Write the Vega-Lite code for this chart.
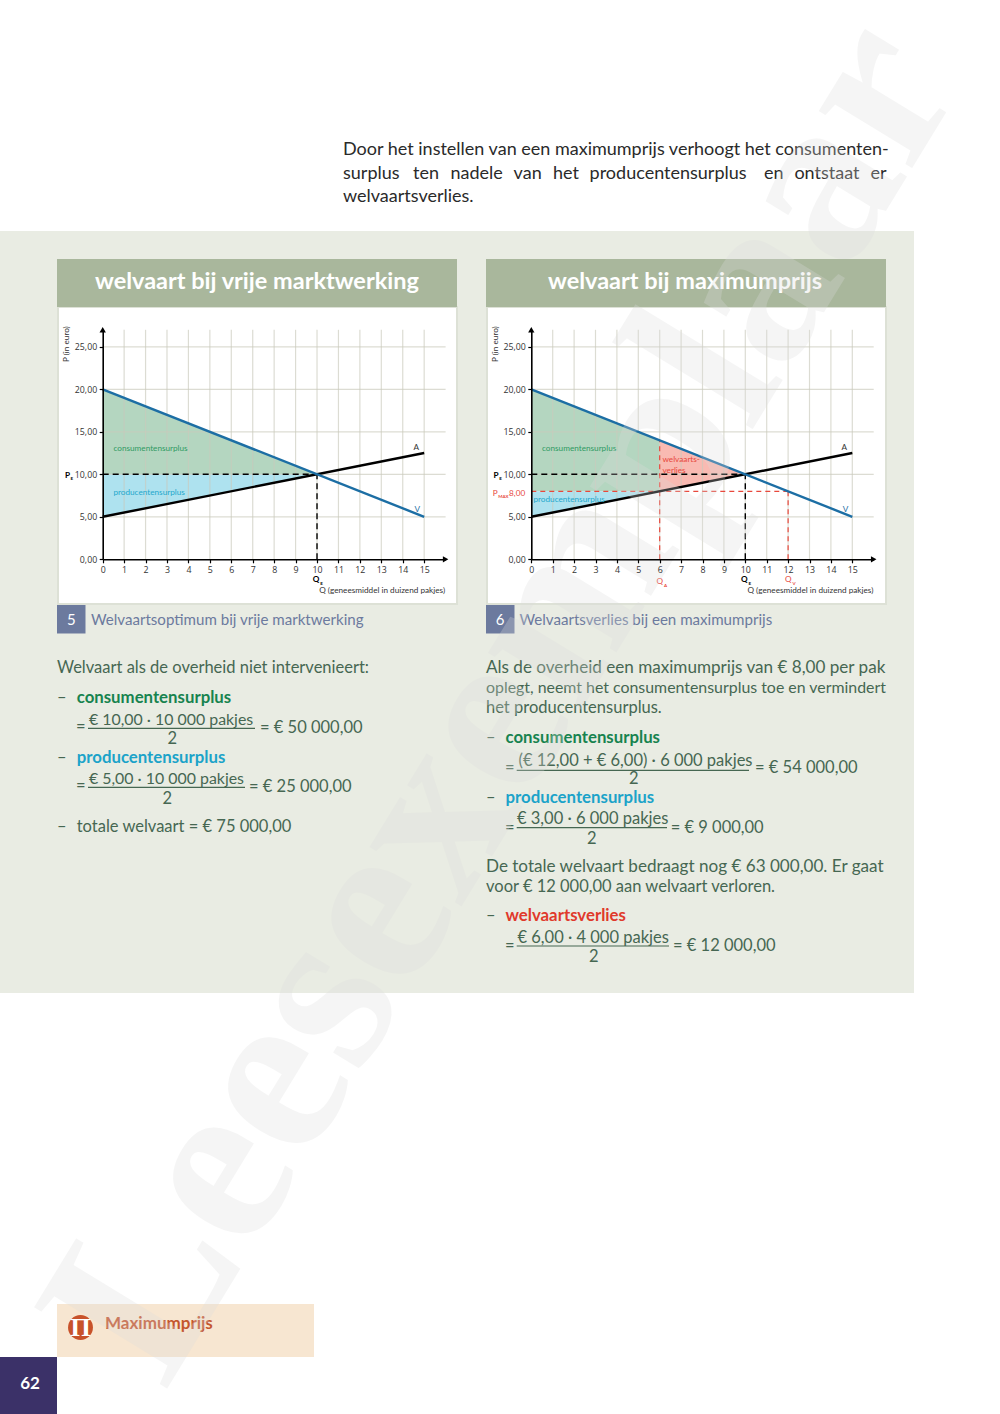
{
"$schema":"https://vega.github.io/schema/vega-lite/v6.json",
"autosize":{"type":"none"},
"width":1000,"height":1414,"padding":0,"background":"white",
"config":{"view":{"stroke":null},"text":{"font":"Lato"},"axis":{"grid":false,"title":null,"domainColor":"#000","domainWidth":1.6,"tickColor":"#000","tickWidth":1.2,"tickSize":3.5,"labelFont":"Open Sans","labelFontSize":8.8,"labelColor":"#333","labelPadding":2.5,"labelOverlap":false,"labelBound":false,"labelFlush":false}},
"datasets":{
"boxes":[
{"kind":"paneel","x":0,"x2":914,"y":231,"y2":993},
{"kind":"kader","x":57,"x2":458,"y":306,"y2":605},
{"kind":"kader","x":486,"x2":887,"y":306,"y2":605},
{"kind":"wit","x":59,"x2":456,"y":308,"y2":603},
{"kind":"wit","x":488,"x2":885,"y":308,"y2":603},
{"kind":"kop","x":57,"x2":457,"y":259,"y2":307},
{"kind":"kop","x":486,"x2":886,"y":259,"y2":307},
{"kind":"nummer","x":57,"x2":85.5,"y":605,"y2":633.5},
{"kind":"nummer","x":486,"x2":514.5,"y":605,"y2":633.5},
{"kind":"beige","x":57,"x2":314,"y":1304,"y2":1357},
{"kind":"paars","x":0,"x2":57,"y":1357,"y2":1414}
],
"rules":[
{"x":88,"x2":255,"y":728.3},{"x":88,"x2":245,"y":787.3},
{"x":516.7,"x2":749,"y":770.3},{"x":516.7,"x2":667,"y":827.7},{"x":516.7,"x2":669,"y":946}
],
"page":[
{"s":"top","x":343,"y":155,"t":"Door het instellen van een maximumprijs verhoogt het consumenten-"},
{"s":"top","x":343,"y":178.7,"t":"surplus"},{"s":"top","x":413,"y":178.7,"t":"ten"},{"s":"top","x":450.5,"y":178.7,"t":"nadele"},{"s":"top","x":513.6,"y":178.7,"t":"van"},{"s":"top","x":553,"y":178.7,"t":"het"},{"s":"top","x":589.6,"y":178.7,"t":"producentensurplus"},{"s":"top","x":764,"y":178.7,"t":"en"},{"s":"top","x":794.4,"y":178.7,"t":"ontstaat"},{"s":"top","x":870.4,"y":178.7,"t":"er"},
{"s":"top","x":343,"y":201.7,"t":"welvaartsverlies."},
{"s":"body","x":57,"y":673,"t":"Welvaart als de overheid niet intervenieert:"},
{"s":"body","x":57,"y":703,"t":"–"},
{"s":"body","x":76,"y":731.7,"t":"="},
{"s":"smal","x":89,"y":724.7,"t":"€ 10,00 · 10 000 pakjes"},
{"s":"body","x":260,"y":733,"t":"= € 50 000,00"},
{"s":"body","x":167.5,"y":744.3,"t":"2"},
{"s":"body","x":57,"y":762.7,"t":"–"},
{"s":"body","x":76,"y":791,"t":"="},
{"s":"smal","x":89,"y":784,"t":"€ 5,00 · 10 000 pakjes"},
{"s":"body","x":249,"y":792.3,"t":"= € 25 000,00"},
{"s":"body","x":162.5,"y":804,"t":"2"},
{"s":"body","x":57,"y":832.3,"t":"–"},
{"s":"body","x":76.7,"y":832.3,"t":"totale welvaart = € 75 000,00"},
{"s":"breed","x":486,"y":673,"t":"Als de overheid een maximumprijs van € 8,00 per pak"},
{"s":"smal","x":486,"y":693.3,"t":"oplegt, neemt het consumentensurplus toe en vermindert"},
{"s":"body","x":486,"y":713,"t":"het producentensurplus."},
{"s":"body","x":486,"y":743,"t":"–"},
{"s":"body","x":505,"y":773.3,"t":"="},
{"s":"body","x":518.5,"y":765.7,"t":"(€ 12,00 + € 6,00) · 6 000 pakjes"},
{"s":"body","x":755,"y":773.3,"t":"= € 54 000,00"},
{"s":"body","x":629,"y":784.3,"t":"2"},
{"s":"body","x":486,"y":802.7,"t":"–"},
{"s":"body","x":505,"y":832.7,"t":"="},
{"s":"body","x":517,"y":824.3,"t":"€ 3,00 · 6 000 pakjes"},
{"s":"body","x":670.7,"y":832.7,"t":"= € 9 000,00"},
{"s":"body","x":587,"y":844.3,"t":"2"},
{"s":"breed","x":486,"y":871.7,"t":"De totale welvaart bedraagt nog € 63 000,00. Er gaat"},
{"s":"body","x":486,"y":891.7,"t":"voor € 12 000,00 aan welvaart verloren."},
{"s":"body","x":486,"y":921,"t":"–"},
{"s":"body","x":505,"y":951,"t":"="},
{"s":"body","x":517.5,"y":943.3,"t":"€ 6,00 · 4 000 pakjes"},
{"s":"body","x":673,"y":951,"t":"= € 12 000,00"},
{"s":"body","x":589,"y":962.3,"t":"2"},
{"s":"groen","x":76.7,"y":703,"t":"consumentensurplus"},
{"s":"cyaan","x":76.7,"y":762.7,"t":"producentensurplus"},
{"s":"groen","x":505.5,"y":743,"t":"consumentensurplus"},
{"s":"cyaan","x":505.5,"y":802.7,"t":"producentensurplus"},
{"s":"rood","x":505.5,"y":921,"t":"welvaartsverlies"},
{"s":"kop","x":95,"y":288.5,"t":"welvaart bij vrije marktwerking"},
{"s":"kop","x":548,"y":288.5,"t":"welvaart bij maximumprijs"},
{"s":"cap","x":91,"y":624.5,"t":"Welvaartsoptimum bij vrije marktwerking"},
{"s":"cap","x":519.5,"y":624.5,"t":"Welvaartsverlies bij een maximumprijs"},
{"s":"capnr","x":71.3,"y":625,"t":"5"},
{"s":"capnr","x":500,"y":625,"t":"6"},
{"s":"pagina","x":30,"y":1389,"t":"62"},
{"s":"thema","x":105,"y":1328.5,"t":"Maximumprijs"},
{"s":"icoon","x":80.5,"y":1336,"t":"Π"}
],
"grid":[{"q":1},{"q":2},{"q":3},{"q":4},{"q":5},{"q":6},{"q":7},{"q":8},{"q":9},{"q":10},{"q":11},{"q":12},{"q":13},{"q":14},{"q":15}],
"gridp":[{"p":5},{"p":10},{"p":15},{"p":20},{"p":25}],
"arrows":[{"q":16,"p":0,"dir":"x"},{"q":0,"p":27,"dir":"y"}],
"surplus":[
{"c":"L","a":"consument","q":0,"top":20,"bottom":10},{"c":"L","a":"consument","q":10,"top":10,"bottom":10},
{"c":"L","a":"producent","q":0,"top":10,"bottom":5},{"c":"L","a":"producent","q":10,"top":10,"bottom":10},
{"c":"R","a":"consument","q":0,"top":20,"bottom":8},{"c":"R","a":"consument","q":6,"top":14,"bottom":8},
{"c":"R","a":"producent","q":0,"top":8,"bottom":5},{"c":"R","a":"producent","q":6,"top":8,"bottom":8},
{"c":"R","a":"verlies","q":6,"top":14,"bottom":8},{"c":"R","a":"verlies","q":10,"top":10,"bottom":10}
],
"curves":[{"curve":"A","q":0,"p":5},{"curve":"A","q":15,"p":12.5},{"curve":"V","q":0,"p":20},{"curve":"V","q":15,"p":5}],
"guides":[
{"c":"L","g":"PE","tone":"zwart","q":0,"p":10},{"c":"L","g":"PE","tone":"zwart","q":10,"p":10},
{"c":"L","g":"QE","tone":"zwart","q":10,"p":0},{"c":"L","g":"QE","tone":"zwart","q":10,"p":10},
{"c":"R","g":"PE","tone":"zwart","q":0,"p":10},{"c":"R","g":"PE","tone":"zwart","q":10,"p":10},
{"c":"R","g":"QE","tone":"zwart","q":10,"p":0},{"c":"R","g":"QE","tone":"zwart","q":10,"p":10},
{"c":"R","g":"Pmax","tone":"rood","q":0,"p":8},{"c":"R","g":"Pmax","tone":"rood","q":12,"p":8},
{"c":"R","g":"QA","tone":"rood","q":6,"p":0},{"c":"R","g":"QA","tone":"rood","q":6,"p":14},
{"c":"R","g":"QV","tone":"rood","q":12,"p":0},{"c":"R","g":"QV","tone":"rood","q":12,"p":8}
],
"labels":[
{"c":"L","r":"n","tone":"groen","t":"consumentensurplus","q":0.5,"p":12.74},
{"c":"L","r":"n","tone":"cyaan","t":"producentensurplus","q":0.5,"p":7.56},
{"c":"L","r":"n","tone":"grijs","t":"A","q":14.5,"p":12.86},
{"c":"L","r":"n","tone":"blauw","t":"V","q":14.55,"p":5.6},
{"c":"L","r":"b","tone":"zwart","t":"P","q":-1.76,"p":9.6},
{"c":"L","r":"s","tone":"zwart","t":"E","q":-1.5,"p":9.3},
{"c":"L","r":"b","tone":"zwart","t":"Q","q":9.8,"p":-2.7},
{"c":"L","r":"s","tone":"zwart","t":"E","q":10.15,"p":-3},
{"c":"L","r":"n","tone":"grijs","t":"Q (geneesmiddel in duizend pakjes)","q":10.1,"p":-4},
{"c":"R","r":"n","tone":"groen","t":"consumentensurplus","q":0.5,"p":12.74},
{"c":"R","r":"n","tone":"cyaan","t":"producentensurplus","q":0.1,"p":6.7},
{"c":"R","r":"n","tone":"rood","t":"welvaarts-","q":6.13,"p":11.4},
{"c":"R","r":"n","tone":"rood","t":"verlies","q":6.13,"p":10.2},
{"c":"R","r":"n","tone":"grijs","t":"A","q":14.5,"p":12.86},
{"c":"R","r":"n","tone":"blauw","t":"V","q":14.55,"p":5.6},
{"c":"R","r":"b","tone":"zwart","t":"P","q":-1.77,"p":9.6},
{"c":"R","r":"s","tone":"zwart","t":"E","q":-1.5,"p":9.3},
{"c":"R","r":"n","tone":"rood","t":"P","q":-1.8,"p":7.5},
{"c":"R","r":"s","tone":"rood","t":"MAX","q":-1.55,"p":7.2},
{"c":"R","r":"n","tone":"rood","t":"8,00","q":-1.04,"p":7.5},
{"c":"R","r":"n","tone":"rood","t":"Q","q":5.85,"p":-2.9},
{"c":"R","r":"s","tone":"rood","t":"A","q":6.2,"p":-3.2},
{"c":"R","r":"b","tone":"zwart","t":"Q","q":9.8,"p":-2.7},
{"c":"R","r":"s","tone":"zwart","t":"E","q":10.15,"p":-3},
{"c":"R","r":"n","tone":"rood","t":"Q","q":11.85,"p":-2.7},
{"c":"R","r":"s","tone":"rood","t":"V","q":12.2,"p":-3},
{"c":"R","r":"n","tone":"grijs","t":"Q (geneesmiddel in duizend pakjes)","q":10.1,"p":-4}
],
"ylab":[{"t":"P (in euro)","p":23.2,"q":-1.57}],
"watermark":[{"t":"Leesexemplaar","x":165,"y":1392}]
},
"resolve":{"scale":{"x":"independent","y":"independent","color":"independent"}},
"layer":[
{"layer":[
{"data":{"name":"boxes"},"mark":{"type":"rect"},"encoding":{
"x":{"field":"x","type":"quantitative","scale":{"domain":[0,1000],"range":[0,1000],"nice":false},"axis":null},"x2":{"field":"x2"},
"y":{"field":"y","type":"quantitative","scale":{"domain":[0,1414],"range":[0,1414],"nice":false},"axis":null},"y2":{"field":"y2"},
"color":{"field":"kind","type":"nominal","legend":null,"scale":{"domain":["paneel","kader","wit","kop","nummer","beige","paars"],"range":["#e9ece3","#dde1d6","#ffffff","#a9b79c","#6c7a9e","#f7e6d1","#3b3168"]}}}},
{"data":{"name":"rules"},"mark":{"type":"rule","color":"#466752","strokeWidth":1.2},"encoding":{"x":{"field":"x","type":"quantitative"},"x2":{"field":"x2"},"y":{"field":"y","type":"quantitative"}}},
{"data":{"name":"page"},"transform":[{"filter":"datum.s=='top'"}],"mark":{"type":"text","align":"left","baseline":"alphabetic","fontSize":18,"color":"#2a2a2a"},"encoding":{"x":{"field":"x","type":"quantitative"},"y":{"field":"y","type":"quantitative"},"text":{"field":"t"}}},
{"data":{"name":"page"},"transform":[{"filter":"datum.s=='body'"}],"mark":{"type":"text","align":"left","baseline":"alphabetic","fontSize":16.5,"color":"#466752"},"encoding":{"x":{"field":"x","type":"quantitative"},"y":{"field":"y","type":"quantitative"},"text":{"field":"t"}}},
{"data":{"name":"page"},"transform":[{"filter":"datum.s=='smal'"}],"mark":{"type":"text","align":"left","baseline":"alphabetic","fontSize":15.9,"color":"#466752"},"encoding":{"x":{"field":"x","type":"quantitative"},"y":{"field":"y","type":"quantitative"},"text":{"field":"t"}}},
{"data":{"name":"page"},"transform":[{"filter":"datum.s=='breed'"}],"mark":{"type":"text","align":"left","baseline":"alphabetic","fontSize":17.1,"color":"#466752"},"encoding":{"x":{"field":"x","type":"quantitative"},"y":{"field":"y","type":"quantitative"},"text":{"field":"t"}}},
{"data":{"name":"page"},"transform":[{"filter":"datum.s=='groen'"}],"mark":{"type":"text","align":"left","baseline":"alphabetic","fontSize":16.8,"fontWeight":"bold","color":"#17834f"},"encoding":{"x":{"field":"x","type":"quantitative"},"y":{"field":"y","type":"quantitative"},"text":{"field":"t"}}},
{"data":{"name":"page"},"transform":[{"filter":"datum.s=='cyaan'"}],"mark":{"type":"text","align":"left","baseline":"alphabetic","fontSize":16.8,"fontWeight":"bold","color":"#1ba3c9"},"encoding":{"x":{"field":"x","type":"quantitative"},"y":{"field":"y","type":"quantitative"},"text":{"field":"t"}}},
{"data":{"name":"page"},"transform":[{"filter":"datum.s=='rood'"}],"mark":{"type":"text","align":"left","baseline":"alphabetic","fontSize":16.8,"fontWeight":"bold","color":"#e0392b"},"encoding":{"x":{"field":"x","type":"quantitative"},"y":{"field":"y","type":"quantitative"},"text":{"field":"t"}}},
{"data":{"name":"page"},"transform":[{"filter":"datum.s=='kop'"}],"mark":{"type":"text","align":"left","baseline":"alphabetic","fontSize":23.5,"fontWeight":"bold","color":"#ffffff"},"encoding":{"x":{"field":"x","type":"quantitative"},"y":{"field":"y","type":"quantitative"},"text":{"field":"t"}}},
{"data":{"name":"page"},"transform":[{"filter":"datum.s=='cap'"}],"mark":{"type":"text","align":"left","baseline":"alphabetic","fontSize":15.1,"color":"#6c7a9e"},"encoding":{"x":{"field":"x","type":"quantitative"},"y":{"field":"y","type":"quantitative"},"text":{"field":"t"}}},
{"data":{"name":"page"},"transform":[{"filter":"datum.s=='capnr'"}],"mark":{"type":"text","align":"center","baseline":"alphabetic","fontSize":15,"color":"#ffffff"},"encoding":{"x":{"field":"x","type":"quantitative"},"y":{"field":"y","type":"quantitative"},"text":{"field":"t"}}},
{"data":{"name":"page"},"transform":[{"filter":"datum.s=='pagina'"}],"mark":{"type":"text","align":"center","baseline":"alphabetic","fontSize":17,"fontWeight":"bold","color":"#ffffff"},"encoding":{"x":{"field":"x","type":"quantitative"},"y":{"field":"y","type":"quantitative"},"text":{"field":"t"}}},
{"data":{"name":"page"},"transform":[{"filter":"datum.s=='thema'"}],"mark":{"type":"text","align":"left","baseline":"alphabetic","fontSize":17,"fontWeight":"bold","color":"#c4552d"},"encoding":{"x":{"field":"x","type":"quantitative"},"y":{"field":"y","type":"quantitative"},"text":{"field":"t"}}},
{"data":{"name":"page"},"transform":[{"filter":"datum.s=='icoon'"}],"mark":{"type":"point","filled":true,"opacity":1,"size":620,"color":"#c8522a","yOffset":-8.5},"encoding":{"x":{"field":"x","type":"quantitative"},"y":{"field":"y","type":"quantitative"}}},
{"data":{"name":"page"},"transform":[{"filter":"datum.s=='icoon'"}],"mark":{"type":"text","align":"center","baseline":"alphabetic","fontSize":26,"fontWeight":"bold","font":"Liberation Serif","color":"#ffffff"},"encoding":{"x":{"field":"x","type":"quantitative"},"y":{"field":"y","type":"quantitative"},"text":{"field":"t"}}}
]},
{"layer":[
{"data":{"name":"surplus"},"transform":[{"filter":"datum.c=='L'"}],"mark":{"type":"area","opacity":1},"encoding":{
"x":{"field":"q","type":"quantitative","scale":{"domain":[0,16],"range":[102.7,445.6],"nice":false},"axis":{"zindex":1,"orient":"bottom","offset":-854.7,"values":[0,1,2,3,4,5,6,7,8,9,10,11,12,13,14,15],"format":"d"}},
"y":{"field":"top","type":"quantitative","scale":{"domain":[0,27],"range":[559.3,329.8],"nice":false},"axis":{"zindex":1,"orient":"left","offset":-102.7,"values":[0,5,10,15,20,25],"labelExpr":"replace(format(datum.value,'.2f'),'.',',')"}},
"y2":{"field":"bottom"},"detail":{"field":"a"},
"color":{"field":"a","type":"nominal","legend":null,"scale":{"domain":["consument","producent","verlies","groen","cyaan","rood","grijs","blauw","zwart"],"range":["#b4d6c0","#aee2ef","#f9bab2","#2f9a63","#1fa8cc","#e8483c","#333333","#1c6ea4","#000000"]}}}},
{"data":{"name":"grid"},"mark":{"type":"rule","color":"#c9cabb","opacity":0.65,"strokeWidth":1.2},"encoding":{"x":{"field":"q","type":"quantitative"},"y":{"datum":0},"y2":{"datum":27}}},
{"data":{"name":"gridp"},"mark":{"type":"rule","color":"#c9cabb","opacity":0.65,"strokeWidth":1.2},"encoding":{"y":{"field":"p","type":"quantitative"},"x":{"datum":0},"x2":{"datum":16}}},
{"data":{"name":"guides"},"transform":[{"filter":"datum.c=='L'"}],"mark":{"type":"line","strokeDash":[6,4],"strokeWidth":1.4,"color":"#000"},"encoding":{"x":{"field":"q","type":"quantitative"},"y":{"field":"p","type":"quantitative"},"detail":{"field":"g"}}},
{"data":{"name":"curves"},"transform":[{"filter":"datum.curve=='A'"}],"mark":{"type":"line","strokeWidth":2.4,"color":"#000"},"encoding":{"x":{"field":"q","type":"quantitative"},"y":{"field":"p","type":"quantitative"}}},
{"data":{"name":"curves"},"transform":[{"filter":"datum.curve=='V'"}],"mark":{"type":"line","strokeWidth":2.4,"color":"#1c6ea4"},"encoding":{"x":{"field":"q","type":"quantitative"},"y":{"field":"p","type":"quantitative"}}},
{"data":{"name":"arrows"},"transform":[{"filter":"datum.dir=='x'"}],"mark":{"type":"point","shape":"triangle-right","filled":true,"opacity":1,"size":40,"color":"#000"},"encoding":{"x":{"field":"q","type":"quantitative"},"y":{"field":"p","type":"quantitative"}}},
{"data":{"name":"arrows"},"transform":[{"filter":"datum.dir=='y'"}],"mark":{"type":"point","shape":"triangle-up","filled":true,"opacity":1,"size":40,"color":"#000"},"encoding":{"x":{"field":"q","type":"quantitative"},"y":{"field":"p","type":"quantitative"}}},
{"data":{"name":"labels"},"transform":[{"filter":"datum.c=='L'&&datum.r=='n'"}],"mark":{"type":"text","align":"left","baseline":"alphabetic","fontSize":8.2,"font":"Lato"},"encoding":{"x":{"field":"q","type":"quantitative"},"y":{"field":"p","type":"quantitative"},"text":{"field":"t"},"color":{"field":"tone","type":"nominal","legend":null,"scale":{"domain":["consument","producent","verlies","groen","cyaan","rood","grijs","blauw","zwart"],"range":["#b4d6c0","#aee2ef","#f9bab2","#2f9a63","#1fa8cc","#e8483c","#333333","#1c6ea4","#000000"]}}}},
{"data":{"name":"labels"},"transform":[{"filter":"datum.c=='L'&&datum.r=='b'"}],"mark":{"type":"text","align":"left","baseline":"alphabetic","fontSize":8.2,"fontWeight":"bold","font":"Lato","color":"#000"},"encoding":{"x":{"field":"q","type":"quantitative"},"y":{"field":"p","type":"quantitative"},"text":{"field":"t"}}},
{"data":{"name":"labels"},"transform":[{"filter":"datum.c=='L'&&datum.r=='s'"}],"mark":{"type":"text","align":"left","baseline":"alphabetic","fontSize":4.5,"fontWeight":"bold","font":"Lato","color":"#000"},"encoding":{"x":{"field":"q","type":"quantitative"},"y":{"field":"p","type":"quantitative"},"text":{"field":"t"}}},
{"data":{"name":"ylab"},"mark":{"type":"text","align":"left","baseline":"alphabetic","angle":270,"fontSize":8.2,"font":"Lato","color":"#333"},"encoding":{"x":{"field":"q","type":"quantitative"},"y":{"field":"p","type":"quantitative"},"text":{"field":"t"}}}
]},
{"layer":[
{"data":{"name":"surplus"},"transform":[{"filter":"datum.c=='R'"}],"mark":{"type":"area","opacity":1},"encoding":{
"x":{"field":"q","type":"quantitative","scale":{"domain":[0,16],"range":[531.3,873.7],"nice":false},"axis":{"zindex":1,"orient":"bottom","offset":-854.7,"values":[0,1,2,3,4,5,6,7,8,9,10,11,12,13,14,15],"format":"d"}},
"y":{"field":"top","type":"quantitative","scale":{"domain":[0,27],"range":[559.3,329.8],"nice":false},"axis":{"zindex":1,"orient":"left","offset":-531.3,"values":[0,5,10,15,20,25],"labelExpr":"replace(format(datum.value,'.2f'),'.',',')"}},
"y2":{"field":"bottom"},"detail":{"field":"a"},
"color":{"field":"a","type":"nominal","legend":null,"scale":{"domain":["consument","producent","verlies","groen","cyaan","rood","grijs","blauw","zwart"],"range":["#b4d6c0","#aee2ef","#f9bab2","#2f9a63","#1fa8cc","#e8483c","#333333","#1c6ea4","#000000"]}}}},
{"data":{"name":"grid"},"mark":{"type":"rule","color":"#c9cabb","opacity":0.65,"strokeWidth":1.2},"encoding":{"x":{"field":"q","type":"quantitative"},"y":{"datum":0},"y2":{"datum":27}}},
{"data":{"name":"gridp"},"mark":{"type":"rule","color":"#c9cabb","opacity":0.65,"strokeWidth":1.2},"encoding":{"y":{"field":"p","type":"quantitative"},"x":{"datum":0},"x2":{"datum":16}}},
{"data":{"name":"guides"},"transform":[{"filter":"datum.c=='R'&&datum.tone=='zwart'"}],"mark":{"type":"line","strokeDash":[6,4],"strokeWidth":1.4,"color":"#000"},"encoding":{"x":{"field":"q","type":"quantitative"},"y":{"field":"p","type":"quantitative"},"detail":{"field":"g"}}},
{"data":{"name":"guides"},"transform":[{"filter":"datum.c=='R'&&datum.tone=='rood'"}],"mark":{"type":"line","strokeDash":[5,4],"strokeWidth":1.2,"color":"#e8483c"},"encoding":{"x":{"field":"q","type":"quantitative"},"y":{"field":"p","type":"quantitative"},"detail":{"field":"g"}}},
{"data":{"name":"curves"},"transform":[{"filter":"datum.curve=='A'"}],"mark":{"type":"line","strokeWidth":2.4,"color":"#000"},"encoding":{"x":{"field":"q","type":"quantitative"},"y":{"field":"p","type":"quantitative"}}},
{"data":{"name":"curves"},"transform":[{"filter":"datum.curve=='V'"}],"mark":{"type":"line","strokeWidth":2.4,"color":"#1c6ea4"},"encoding":{"x":{"field":"q","type":"quantitative"},"y":{"field":"p","type":"quantitative"}}},
{"data":{"name":"arrows"},"transform":[{"filter":"datum.dir=='x'"}],"mark":{"type":"point","shape":"triangle-right","filled":true,"opacity":1,"size":40,"color":"#000"},"encoding":{"x":{"field":"q","type":"quantitative"},"y":{"field":"p","type":"quantitative"}}},
{"data":{"name":"arrows"},"transform":[{"filter":"datum.dir=='y'"}],"mark":{"type":"point","shape":"triangle-up","filled":true,"opacity":1,"size":40,"color":"#000"},"encoding":{"x":{"field":"q","type":"quantitative"},"y":{"field":"p","type":"quantitative"}}},
{"data":{"name":"labels"},"transform":[{"filter":"datum.c=='R'&&datum.r=='n'"}],"mark":{"type":"text","align":"left","baseline":"alphabetic","fontSize":8.2,"font":"Lato"},"encoding":{"x":{"field":"q","type":"quantitative"},"y":{"field":"p","type":"quantitative"},"text":{"field":"t"},"color":{"field":"tone","type":"nominal","legend":null,"scale":{"domain":["consument","producent","verlies","groen","cyaan","rood","grijs","blauw","zwart"],"range":["#b4d6c0","#aee2ef","#f9bab2","#2f9a63","#1fa8cc","#e8483c","#333333","#1c6ea4","#000000"]}}}},
{"data":{"name":"labels"},"transform":[{"filter":"datum.c=='R'&&datum.r=='b'"}],"mark":{"type":"text","align":"left","baseline":"alphabetic","fontSize":8.2,"fontWeight":"bold","font":"Lato","color":"#000"},"encoding":{"x":{"field":"q","type":"quantitative"},"y":{"field":"p","type":"quantitative"},"text":{"field":"t"}}},
{"data":{"name":"labels"},"transform":[{"filter":"datum.c=='R'&&datum.r=='s'"}],"mark":{"type":"text","align":"left","baseline":"alphabetic","fontSize":4.5,"fontWeight":"bold","font":"Lato"},"encoding":{"x":{"field":"q","type":"quantitative"},"y":{"field":"p","type":"quantitative"},"text":{"field":"t"},"color":{"field":"tone","type":"nominal","legend":null,"scale":{"domain":["consument","producent","verlies","groen","cyaan","rood","grijs","blauw","zwart"],"range":["#b4d6c0","#aee2ef","#f9bab2","#2f9a63","#1fa8cc","#e8483c","#333333","#1c6ea4","#000000"]}}}},
{"data":{"name":"ylab"},"mark":{"type":"text","align":"left","baseline":"alphabetic","angle":270,"fontSize":8.2,"font":"Lato","color":"#333"},"encoding":{"x":{"field":"q","type":"quantitative"},"y":{"field":"p","type":"quantitative"},"text":{"field":"t"}}}
]},
{"data":{"name":"watermark"},"mark":{"type":"text","align":"left","baseline":"alphabetic","angle":-58.6,"fontSize":238,"fontWeight":"bold","font":"Liberation Serif","color":"#dcdcdc","opacity":0.28},"encoding":{
"x":{"field":"x","type":"quantitative","scale":{"domain":[0,1000],"range":[0,1000],"nice":false},"axis":null},
"y":{"field":"y","type":"quantitative","scale":{"domain":[0,1414],"range":[0,1414],"nice":false},"axis":null},
"text":{"field":"t"}}}
]
}
